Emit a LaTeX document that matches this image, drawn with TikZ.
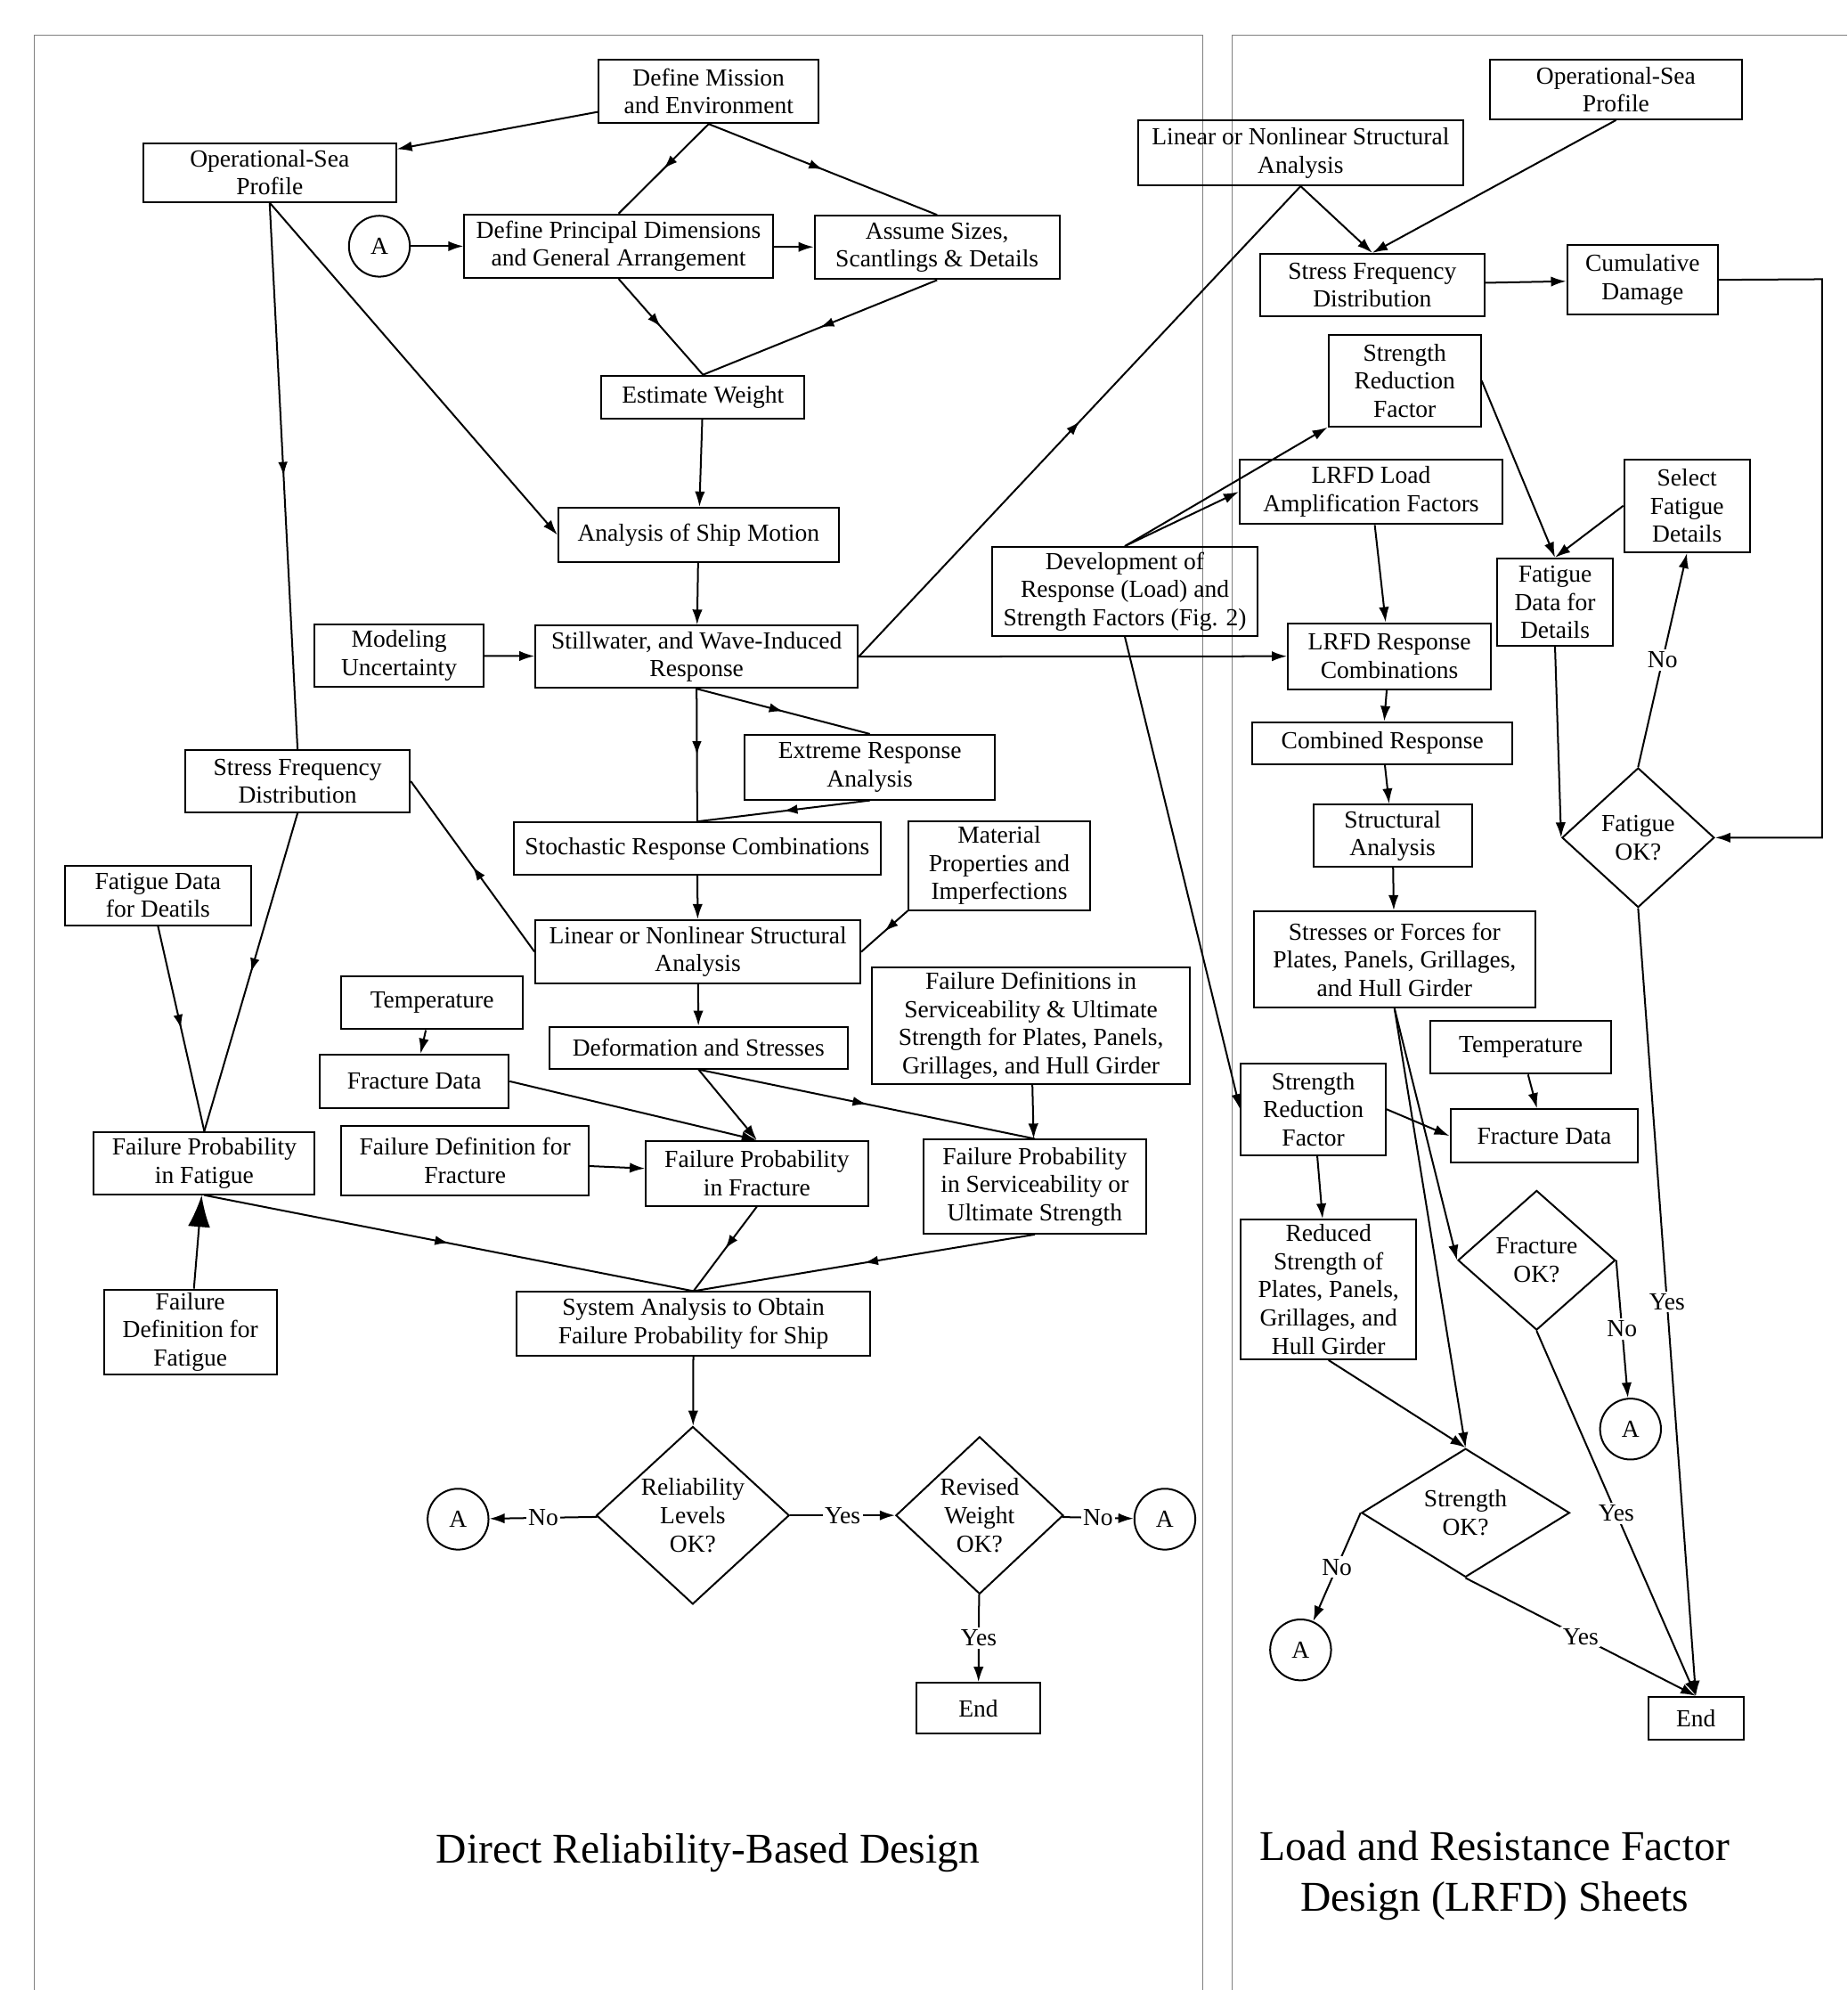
\documentclass[tikz,border=0pt]{standalone}
\usepackage{fontspec}
\setmainfont{Liberation Serif}
\usetikzlibrary{arrows.meta,shapes.geometric,decorations.markings}

\begin{document}
\begin{tikzpicture}[x=0.02cm,y=-0.02cm,
   font=\fontsize{11}{12.6}\selectfont,
   box/.style 2 args={draw,thick,align=center,inner sep=1pt,
     minimum width=#1*0.02cm,minimum height=#2*0.02cm},
   dia/.style 2 args={draw,thick,diamond,align=center,inner sep=0pt,
     minimum width=#1*0.02cm,minimum height=#2*0.02cm},
   conn/.style={draw,thick,circle,minimum size=0.96cm,inner sep=0pt},
   arr/.style={thick,-{Latex[length=2.4mm,width=1.6mm]}},
   mid/.style={thick,postaction={decorate},decoration={markings,
     mark=at position .5 with {\arrow{Latex[length=2.2mm,width=1.5mm]}}}},
   lab/.style={fill=white,inner sep=1pt}]
 \useasboundingbox (0,0) rectangle (1456,1568);
 \draw[gray] (27,1568) -- (27,28) -- (948,28) -- (948,1568);
 \draw[gray] (971,1568) -- (971,28) -- (1456,28);

 % direct reliability-based design
 \node[box={173}{50}] (mission) at (558.5,72) {Define Mission\\and Environment};
 \node[box={199}{46}] (opsea) at (212.5,136) {Operational-Sea\\Profile};
 \node[conn] (a1) at (299,194) {A};
 \node[box={243}{50}] (dims) at (487.5,194) {Define Principal Dimensions\\and General Arrangement};
 \node[box={193}{50}] (sizes) at (738.5,195) {Assume Sizes,\\Scantlings \& Details};
 \node[box={160}{34}] (weight) at (554,313) {Estimate Weight};
 \node[box={221}{43}] (motion) at (550.5,421.5) {Analysis of Ship Motion};
 \node[box={133}{49}] (model) at (314.5,516.5) {Modeling\\Uncertainty};
 \node[box={254}{49}] (still) at (549,517.5) {Stillwater, and Wave-Induced\\Response};
 \node[box={197}{51}] (extreme) at (685.5,604.5) {Extreme Response\\Analysis};
 \node[box={177}{49}] (sfd) at (234.5,615.5) {Stress Frequency\\Distribution};
 \node[box={289}{41}] (stoch) at (549.5,668.5) {Stochastic Response Combinations};
 \node[box={143}{70}] (mater) at (787.5,682) {Material\\Properties and\\Imperfections};
 \node[box={147}{47}] (fdata) at (124.5,705.5) {Fatigue Data\\for Deatils};
 \node[box={256}{50}] (lin) at (550,750) {Linear or Nonlinear Structural\\Analysis};
 \node[box={143}{42}] (temp) at (340.5,790) {Temperature};
 \node[box={251}{92}] (fdefs) at (812.5,808) {Failure Definitions in\\Serviceability \& Ultimate\\Strength for Plates, Panels,\\Grillages, and Hull Girder};
 \node[box={235}{33}] (deform) at (550.5,825.5) {Deformation and Stresses};
 \node[box={149}{42}] (frac) at (326.5,852) {Fracture Data};
 \node[box={174}{49}] (pfat) at (161,916.5) {Failure Probability\\in Fatigue};
 \node[box={195}{55}] (dfrac) at (366.5,914.5) {Failure Definition for\\Fracture};
 \node[box={175}{51}] (pfrac) at (596.5,924.5) {Failure Probability\\in Fracture};
 \node[box={175}{74}] (pserv) at (815.5,935) {Failure Probability\\in Serviceability or\\Ultimate Strength};
 \node[box={136}{67}] (dfat) at (150,1049.5) {Failure\\Definition for\\Fatigue};
 \node[box={279}{50}] (system) at (546.5,1043) {System Analysis to Obtain\\Failure Probability for Ship};
 \node[dia={152}{140}] (rel) at (546,1194) {Reliability\\Levels\\OK?};
 \node[conn] (a2) at (361,1197) {A};
 \node[dia={132}{124}] (rev) at (772,1194) {Revised\\Weight\\OK?};
 \node[conn] (a3) at (918,1197) {A};
 \node[box={98}{40}] (end1) at (771,1346) {End};
 \node[font=\fontsize{19}{23}\selectfont] (title1) at (558,1460) {Direct Reliability-Based Design};

 \draw[arr] (mission) -- (opsea);
 \draw[mid] (mission.south) -- (dims.north);
 \draw[mid] (mission.south) -- (sizes.north);
 \draw[arr] (a1) -- (dims);
 \draw[arr] (dims) -- (sizes);
 \draw[mid] (dims.south) -- (weight.north);
 \draw[mid] (sizes.south) -- (weight.north);
 \draw[arr] (opsea.south) -- (motion.west);
 \draw[mid] (opsea.south) -- (sfd.north);
 \draw[arr] (weight) -- (motion);
 \draw[arr] (motion) -- (still);
 \draw[arr] (model) -- (still);
 \draw[mid] (still.south) -- (stoch.north);
 \draw[mid] (still.south) -- (extreme.north);
 \draw[mid] (extreme.south) -- (stoch.north);
 \draw[arr] (stoch) -- (lin);
 \draw[mid] (mater.south west) -- (lin.east);
 \draw[mid] (lin.west) -- (sfd.east);
 \draw[mid] (sfd.south) -- (pfat.north);
 \draw[mid] (fdata.south) -- (pfat.north);
 \draw[thick,-{Latex[length=5mm,width=3.5mm]}] (dfat) -- (pfat);
 \draw[arr] (lin) -- (deform);
 \draw[arr] (temp) -- (frac);
 \draw[arr] (frac.east) -- (pfrac.north);
 \draw[arr] (deform.south) -- (pfrac.north);
 \draw[mid] (deform.south) -- (pserv.north);
 \draw[arr] (fdefs) -- (pserv);
 \draw[arr] (dfrac) -- (pfrac);
 \draw[mid] (pfat.south) -- (system.north);
 \draw[mid] (pfrac.south) -- (system.north);
 \draw[mid] (pserv.south) -- (system.north);
 \draw[arr] (system) -- (rel);
 \draw[arr] (rel) -- node[lab] {No} (a2);
 \draw[arr] (rel) -- node[lab] {Yes} (rev);
 \draw[arr] (rev) -- node[lab] {No} (a3);
 \draw[arr] (rev) -- node[lab] {Yes} (end1);

 % lrfd sheets
 \node[box={199}{47}] (ropsea) at (1273.5,70.5) {Operational-Sea\\Profile};
 \node[box={256}{51}] (rlin) at (1025,120.5) {Linear or Nonlinear Structural\\Analysis};
 \node[box={177}{49}] (rsfd) at (1081.5,224.5) {Stress Frequency\\Distribution};
 \node[box={119}{55}] (cumul) at (1294.5,220.5) {Cumulative\\Damage};
 \node[box={120}{72}] (srf1) at (1107,300) {Strength\\Reduction\\Factor};
 \node[box={207}{51}] (lamp) at (1080.5,387.5) {LRFD Load\\Amplification Factors};
 \node[box={99}{73}] (select) at (1329.5,398.5) {Select\\Fatigue\\Details};
 \node[box={209}{70}] (devel) at (886.5,466) {Development of\\Response (Load) and\\Strength Factors (Fig. 2)};
 \node[box={91}{69}] (rfdata) at (1225.5,474.5) {Fatigue\\Data for\\Details};
 \node[box={160}{52}] (rcomb) at (1095,517) {LRFD Response\\Combinations};
 \node[box={205}{33}] (combined) at (1089.5,585.5) {Combined Response};
 \node[box={125}{49}] (struct) at (1097.5,658.5) {Structural\\Analysis};
 \node[dia={120}{110}] (fatok) at (1291,660) {Fatigue\\OK?};
 \node[box={222}{76}] (forces) at (1099,756) {Stresses or Forces for\\Plates, Panels, Grillages,\\and Hull Girder};
 \node[box={143}{42}] (rtemp) at (1198.5,825) {Temperature};
 \node[box={114}{72}] (srf2) at (1035,874) {Strength\\Reduction\\Factor};
 \node[box={148}{42}] (rfrac) at (1217,895) {Fracture Data};
 \node[dia={124}{110}] (fracok) at (1211,993) {Fracture\\OK?};
 \node[box={138}{110}] (reduced) at (1047,1016) {Reduced\\Strength of\\Plates, Panels,\\Grillages, and\\Hull Girder};
 \node[conn] (a4) at (1285,1126) {A};
 \node[dia={164}{80}] (strok) at (1155,1192) {Strength\\OK?};
 \node[conn] (a5) at (1025,1300) {A};
 \node[box={75}{34}] (end2) at (1336.5,1354) {End};
 \node[font=\fontsize{19}{23}\selectfont,align=center] (title2) at (1178,1478) {Load and Resistance Factor\\Design (LRFD) Sheets};

 \draw[mid] (still.east) -- (rlin.south);
 \draw[arr] (still) -- (rcomb);
 \draw[arr] (ropsea.south) -- (rsfd.north);
 \draw[arr] (rlin.south) -- (rsfd.north);
 \draw[arr] (rsfd) -- (cumul);
 \draw[arr] (cumul.east) -- (1436,220) -- (1436,660) -- (fatok.east);
 \draw[arr] (devel.north) -- (srf1.south west);
 \draw[arr] (devel.north) -- (lamp.west);
 \draw[arr] (devel.south) -- (srf2.west);
 \draw[arr] (srf1.east) -- (rfdata.north);
 \draw[arr] (select.west) -- (rfdata.north);
 \draw[arr] (lamp) -- (rcomb);
 \draw[arr] (rcomb) -- (combined);
 \draw[arr] (combined) -- (struct);
 \draw[arr] (struct) -- (forces);
 \draw[arr] (rfdata.south) -- (fatok.west);
 \draw[arr] (fatok.north) -- node[lab] {No} (select.south);
 \draw[arr] (fatok.south) -- node[lab,pos=.5] {Yes} (end2.north);
 \draw[arr] (rtemp) -- (rfrac);
 \draw[arr] (srf2.east) -- (rfrac.west);
 \draw[arr] (srf2) -- (reduced);
 \draw[arr] (forces.south) -- (fracok.west);
 \draw[arr] (forces.south) -- (strok.north);
 \draw[arr] (reduced.south) -- (strok.north);
 \draw[arr] (fracok.east) -- node[lab] {No} (a4);
 \draw[arr] (fracok.south) -- node[lab] {Yes} (end2.north);
 \draw[arr] (strok.west) -- node[lab] {No} (a5);
 \draw[arr] (strok.south) -- node[lab] {Yes} (end2.north);
\end{tikzpicture}
\end{document}
